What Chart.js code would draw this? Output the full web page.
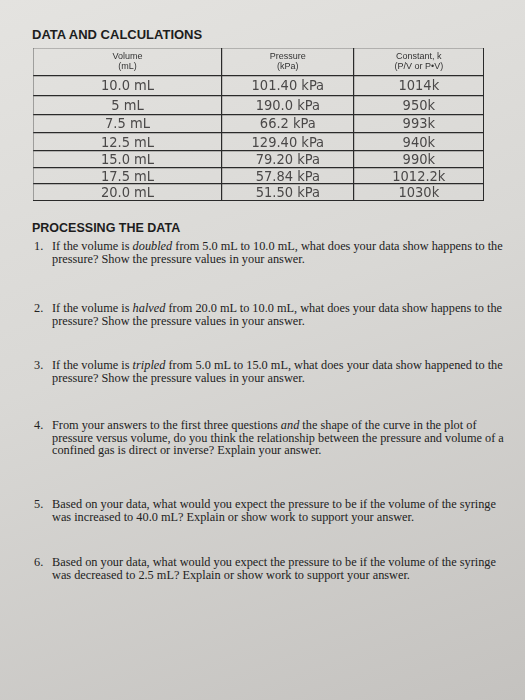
<!DOCTYPE html>
<html><head><meta charset="utf-8">
<script src="https://cdn.jsdelivr.net/npm/chart.js@4/dist/chart.umd.min.js"></script>
<style>
html,body{margin:0;padding:0;width:525px;height:700px;overflow:hidden}
body{background:linear-gradient(160deg,#e4e3e0 0%,#d9d8d5 45%,#c4c2bf 100%);position:relative;font-family:"Liberation Serif",serif;color:#222}
.h{position:absolute;font-family:"Liberation Sans",Arial,sans-serif;font-weight:bold;font-size:12.5px;color:#1d1d1d}
.n{position:absolute;left:34px;font-size:12.3px;line-height:12.5px}
.q{position:absolute;left:52px;width:470px;font-size:12.3px;line-height:12.5px;white-space:nowrap}
#wrap{position:absolute;left:33px;top:48px;width:451px;height:153px}
</style></head><body>
<div class="h" style="left:32px;top:27px;font-size:13px">DATA AND CALCULATIONS</div>
<div id="wrap"><canvas id="c"></canvas></div>
<div class="h" style="left:32px;top:221px">PROCESSING THE DATA</div>
<div class="n" style="top:240px">1.</div><div class="q" style="top:240px">If the volume is <i>doubled</i> from 5.0 mL to 10.0 mL, what does your data show happens to the<br>pressure? Show the pressure values in your answer.</div>
<div class="n" style="top:302px">2.</div><div class="q" style="top:302px">If the volume is <i>halved</i> from 20.0 mL to 10.0 mL, what does your data show happens to the<br>pressure? Show the pressure values in your answer.</div>
<div class="n" style="top:359px">3.</div><div class="q" style="top:359px">If the volume is <i>tripled</i> from 5.0 mL to 15.0 mL, what does your data show happened to the<br>pressure? Show the pressure values in your answer.</div>
<div class="n" style="top:419px">4.</div><div class="q" style="top:419px">From your answers to the first three questions <i>and</i> the shape of the curve in the plot of<br>pressure versus volume, do you think the relationship between the pressure and volume of a<br>confined gas is direct or inverse? Explain your answer.</div>
<div class="n" style="top:498px">5.</div><div class="q" style="top:498px">Based on your data, what would you expect the pressure to be if the volume of the syringe<br>was increased to 40.0 mL? Explain or show work to support your answer.</div>
<div class="n" style="top:556px">6.</div><div class="q" style="top:556px">Based on your data, what would you expect the pressure to be if the volume of the syringe<br>was decreased to 2.5 mL? Explain or show work to support your answer.</div>
<script>
const headers = [["Volume","(mL)"],["Pressure","(kPa)"],["Constant, k","(P/V or P\u2022V)"]];
const volumes = ["10.0 mL","5 mL","7.5 mL","12.5 mL","15.0 mL","17.5 mL","20.0 mL"];
const pressures = ["101.40 kPa","190.0 kPa","66.2 kPa","129.40 kPa","79.20 kPa","57.84 kPa","51.50 kPa"];
const constants = ["1014k","950k","993k","940k","990k","1012.2k","1030k"];
const colEdges = [0,1.45,2.46,3.46];
const rowEdges = [0,1.55,2.65,3.7,4.75,5.75,6.7,7.6,8.55];

const tablePlugin = {
  id:'tbl',
  afterDraw(chart){
    const {ctx, scales:{x,y}} = chart;
    const cx = i => (x.getPixelForValue(colEdges[i])+x.getPixelForValue(colEdges[i+1]))/2;
    const cy = j => (y.getPixelForValue(rowEdges[j])+y.getPixelForValue(rowEdges[j+1]))/2;
    ctx.save();
    ctx.textAlign='center';ctx.textBaseline='middle';
    ctx.fillStyle='#333';ctx.font='9px "Liberation Sans", Arial, sans-serif';
    headers.forEach((h,i)=>{ctx.fillText(h[0],cx(i),cy(0)-5);ctx.fillText(h[1],cx(i),cy(0)+5);});
    ctx.fillStyle='#4a4848';ctx.font='14.5px "DejaVu Sans Condensed","DejaVu Sans",sans-serif';
    const cols=[volumes,pressures,constants];
    cols.forEach((arr,i)=>arr.forEach((v,j)=>ctx.fillText(v,cx(i),cy(j+1)+1)));
    ctx.restore();
  }
};
const gridOpt = {color:'#2a2a2a',lineWidth:1.2,drawTicks:false};
new Chart(document.getElementById('c'),{
  type:'scatter',
  data:{datasets:[{data:[],showLine:false}]},
  options:{
    responsive:true,maintainAspectRatio:false,animation:false,
    layout:{padding:0},
    plugins:{legend:{display:false},tooltip:{enabled:false}},
    scales:{
      x:{type:'linear',min:0,max:3.46,ticks:{display:false},grid:gridOpt,border:{color:'#2a2a2a',width:1.2},
         afterBuildTicks(s){s.ticks=colEdges.map(v=>({value:v}));}},
      y:{type:'linear',reverse:true,min:0,max:8.55,ticks:{display:false},grid:gridOpt,border:{color:'#2a2a2a',width:1.2},
         afterBuildTicks(s){s.ticks=rowEdges.map(v=>({value:v}));}}
    }
  },
  plugins:[tablePlugin]
});
</script>
</body></html>
